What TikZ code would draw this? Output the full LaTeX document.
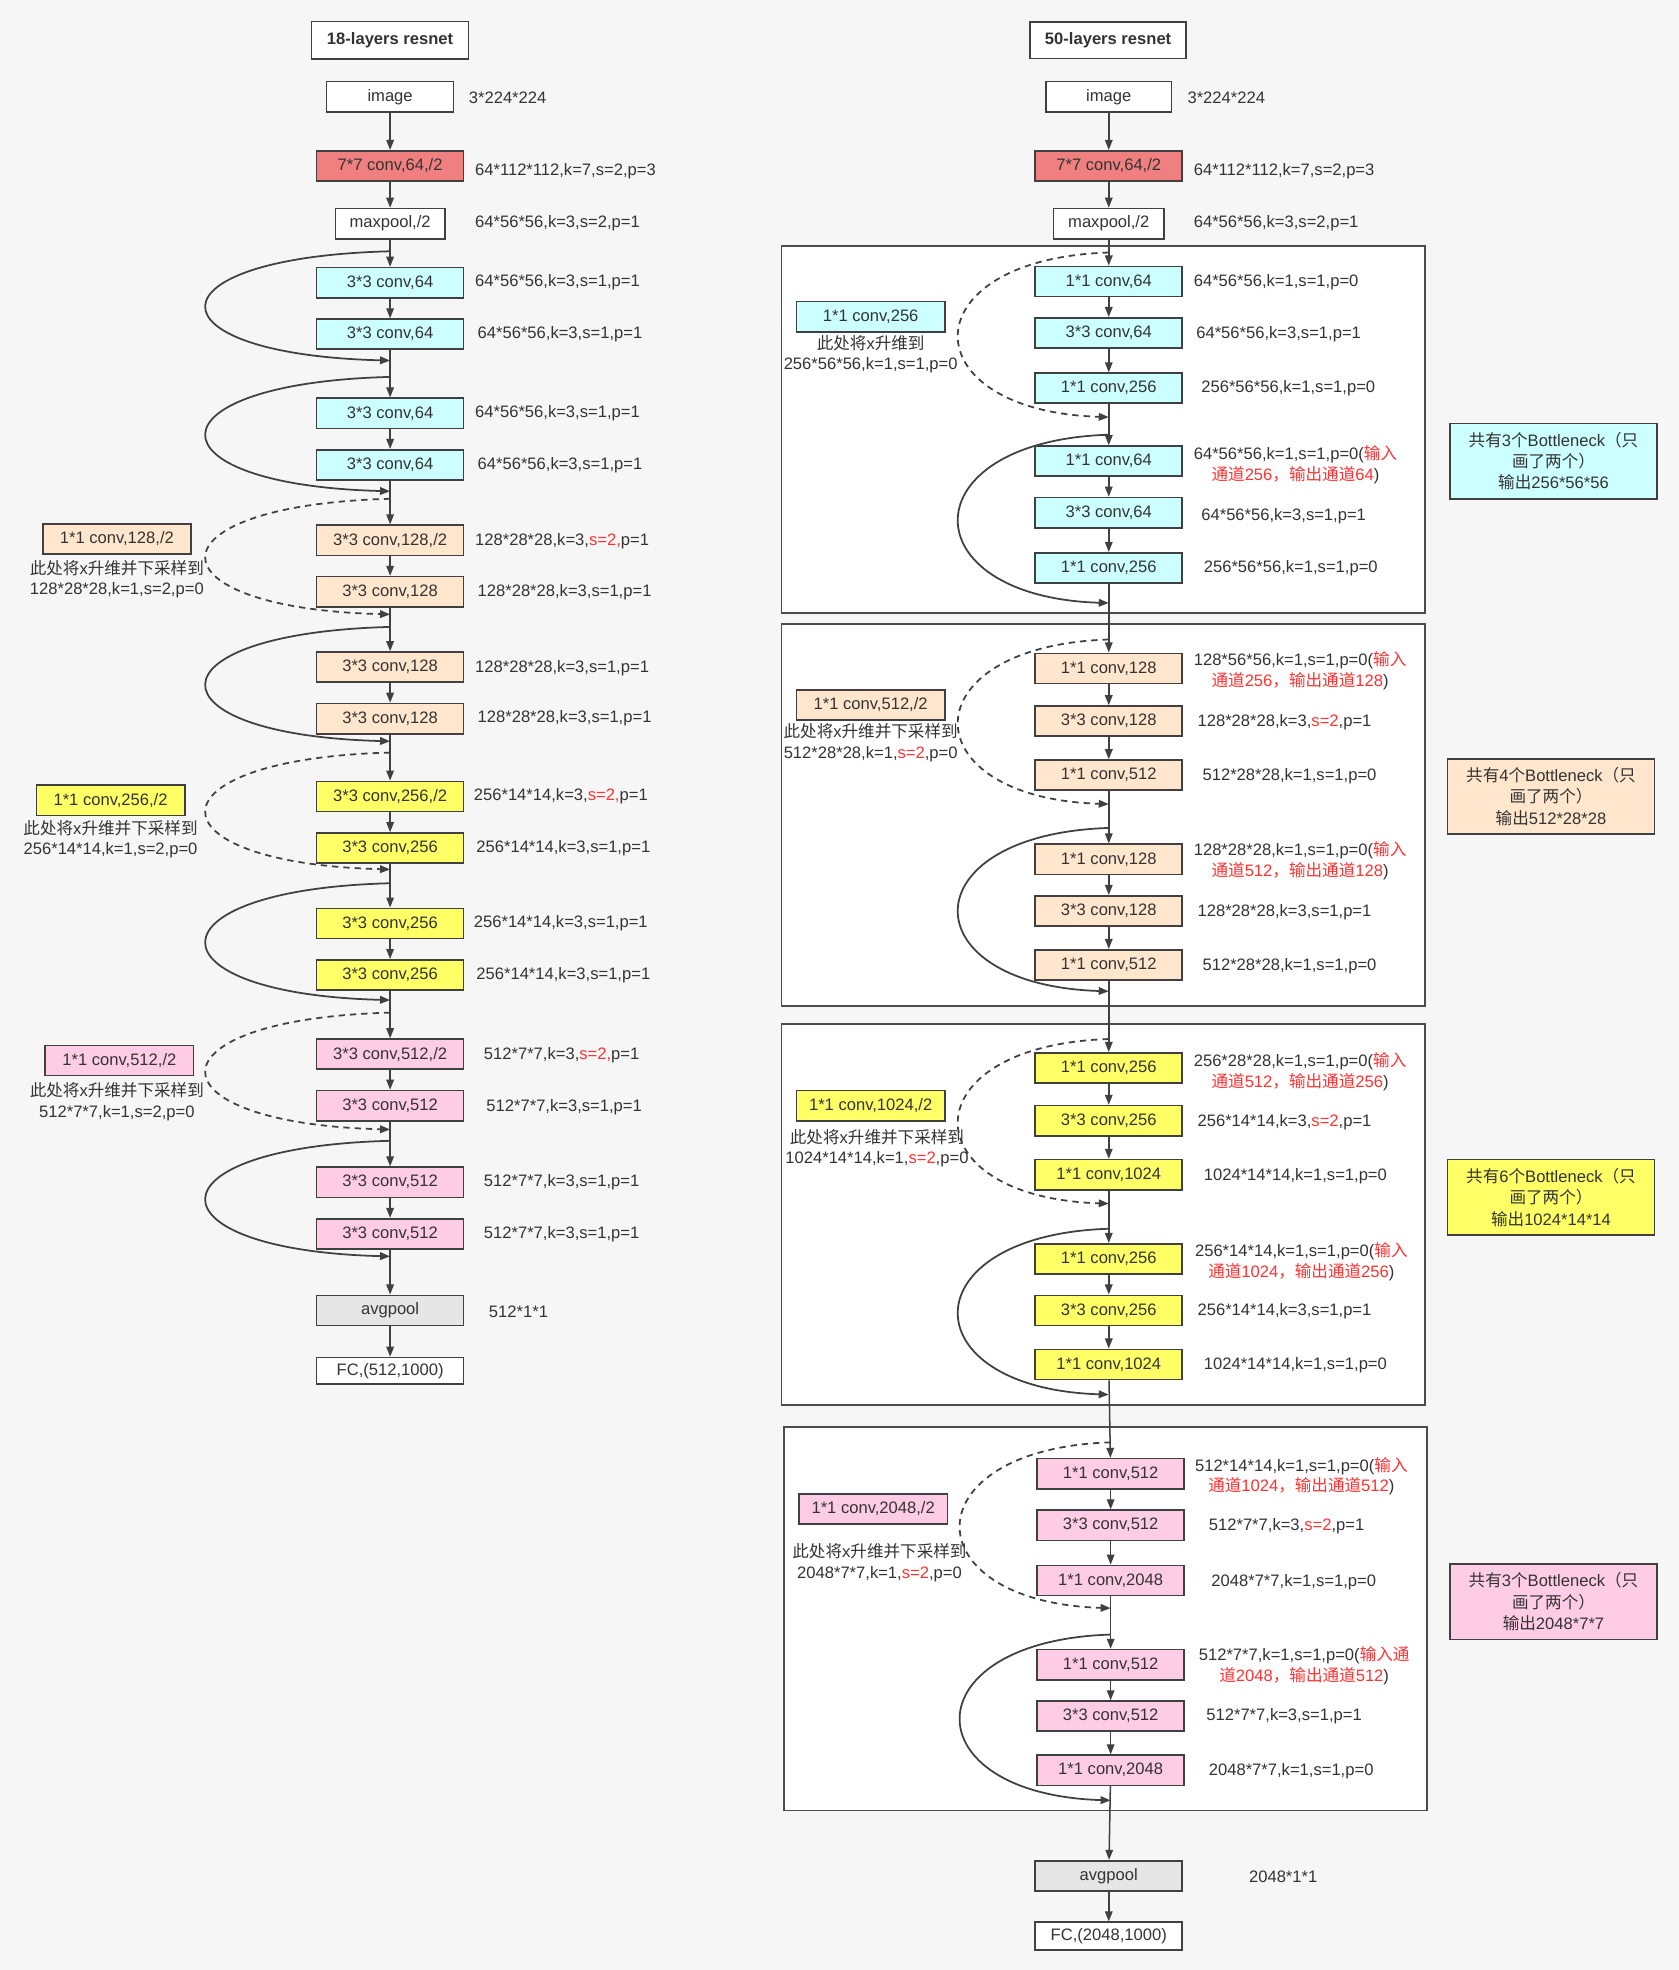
\documentclass[tikz,border=0pt]{standalone}
\usepackage{fontspec}
\setmainfont{Liberation Sans}
\newfontfamily\cjk{Noto Sans CJK SC}
\usetikzlibrary{arrows.meta}
\definecolor{cyanc}{HTML}{CCFFFF}
\definecolor{peachc}{HTML}{FFE6CC}
\definecolor{yelc}{HTML}{FFFF66}
\definecolor{pinkc}{HTML}{FFCCE6}
\definecolor{redc}{HTML}{F08080}
\definecolor{grayc}{HTML}{E6E6E6}
\definecolor{hotred}{HTML}{FF3333}
\definecolor{bgc}{HTML}{F6F6F6}
\definecolor{ink}{HTML}{333333}
\newcommand\lbl{\fontsize{13.2}{16.5}\selectfont}
\newcommand\zh[1]{{\cjk #1}}
\newcommand\hot[1]{\textcolor{hotred}{#1}}
\tikzset{
  blk/.style={draw=black!75, line width=1.3pt, fill=white, minimum width=117pt,
    minimum height=24pt, inner sep=0pt, text=ink, font=\lbl},
  lab/.style={anchor=west, inner sep=0pt, text=ink, font=\lbl},
  note/.style={align=center, inner sep=0pt, text=ink, font=\lbl},
  info/.style={blk, minimum width=165pt, minimum height=60pt, align=center,
    font=\fontsize{13.2}{17}\selectfont},
  frame/.style={draw=black!70, line width=1.5pt, fill=white},
  arr/.style={draw=black!75, line width=1.2pt, -{Triangle[length=8pt,width=6pt]}},
  skipline/.style={arr, line width=1.4pt},
  skipdash/.style={arr, line width=1.4pt, dash pattern=on 5pt off 4pt},
}
\begin{document}
\begin{tikzpicture}[x=1pt,y=-1pt]
\fill[bgc] (0,0) rectangle (1336,1568);
\useasboundingbox (0,0) rectangle (1336,1568);
% ---- 18 layers ----
\node[blk, font=\lbl\bfseries, minimum width=125pt, minimum height=30pt] (t18) at (310.5,32) {18-layers resnet};
\node[blk, minimum width=101pt] (im18) at (310.5,77) {image};
\node[lab] (lim18) at (373,78) {3*224*224};
\node[blk, fill=redc] (cv18) at (310.5,132) {7*7 conv,64,/2};
\node[lab] (lcv18) at (378,136) {64*112*112,k=7,s=2,p=3};
\node[blk, minimum width=87pt] (mp18) at (310.5,178) {maxpool,/2};
\node[lab] (lmp18) at (378,178) {64*56*56,k=3,s=2,p=1};
\node[blk, fill=cyanc] (b1) at (310.5,225) {3*3 conv,64};
\node[blk, fill=cyanc] (b2) at (310.5,266) {3*3 conv,64};
\node[blk, fill=cyanc] (b3) at (310.5,329) {3*3 conv,64};
\node[blk, fill=cyanc] (b4) at (310.5,370) {3*3 conv,64};
\node[lab] (lb1) at (378,225) {64*56*56,k=3,s=1,p=1};
\node[lab] (lb2) at (380,266) {64*56*56,k=3,s=1,p=1};
\node[lab] (lb3) at (378,329) {64*56*56,k=3,s=1,p=1};
\node[lab] (lb4) at (380,370) {64*56*56,k=3,s=1,p=1};
\node[blk, fill=peachc] (c1) at (310.5,430) {3*3 conv,128,/2};
\node[blk, fill=peachc] (c2) at (310.5,471) {3*3 conv,128};
\node[blk, fill=peachc] (c3) at (310.5,531) {3*3 conv,128};
\node[blk, fill=peachc] (c4) at (310.5,572) {3*3 conv,128};
\node[lab] (lc1) at (378,431) {128*28*28,k=3,\hot{s=2,}p=1};
\node[lab] (lc2) at (380,471) {128*28*28,k=3,s=1,p=1};
\node[lab] (lc3) at (378,532) {128*28*28,k=3,s=1,p=1};
\node[lab] (lc4) at (380,572) {128*28*28,k=3,s=1,p=1};
\node[blk, fill=yelc] (d1) at (310.5,634) {3*3 conv,256,/2};
\node[blk, fill=yelc] (d2) at (310.5,675) {3*3 conv,256};
\node[blk, fill=yelc] (d3) at (310.5,735) {3*3 conv,256};
\node[blk, fill=yelc] (d4) at (310.5,776) {3*3 conv,256};
\node[lab] (ld1) at (377,634) {256*14*14,k=3,\hot{s=2,}p=1};
\node[lab] (ld2) at (379,675) {256*14*14,k=3,s=1,p=1};
\node[lab] (ld3) at (377,735) {256*14*14,k=3,s=1,p=1};
\node[lab] (ld4) at (379,776) {256*14*14,k=3,s=1,p=1};
\node[blk, fill=pinkc] (e1) at (310.5,839) {3*3 conv,512,/2};
\node[blk, fill=pinkc] (e2) at (310.5,880) {3*3 conv,512};
\node[blk, fill=pinkc] (e3) at (310.5,941) {3*3 conv,512};
\node[blk, fill=pinkc] (e4) at (310.5,982) {3*3 conv,512};
\node[lab] (le1) at (385,840) {512*7*7,k=3,\hot{s=2,}p=1};
\node[lab] (le2) at (387,881) {512*7*7,k=3,s=1,p=1};
\node[lab] (le3) at (385,941) {512*7*7,k=3,s=1,p=1};
\node[lab] (le4) at (385,982) {512*7*7,k=3,s=1,p=1};
\node[blk, fill=grayc] (ap18) at (310.5,1043) {avgpool};
\node[lab] (lap18) at (389,1044) {512*1*1};
\node[blk, minimum height=21pt] (fc18) at (310.5,1091) {FC,(512,1000)};
% side convs
\node[blk, fill=peachc, minimum width=118pt] (sd1) at (93,429) {1*1 conv,128,/2};
\node[note] (sn1) at (93,461) {\zh{此处将}x\zh{升维并下采样到}\\128*28*28,k=1,s=2,p=0};
\node[blk, fill=yelc, minimum width=118pt] (sd2) at (88,637) {1*1 conv,256,/2};
\node[note] (sn2) at (88,668) {\zh{此处将}x\zh{升维并下采样到}\\256*14*14,k=1,s=2,p=0};
\node[blk, fill=pinkc, minimum width=118pt] (sd3) at (95,844) {1*1 conv,512,/2};
\node[note] (sn3) at (93,877) {\zh{此处将}x\zh{升维并下采样到}\\512*7*7,k=1,s=2,p=0};
\foreach \a/\b in {im18/cv18,cv18/mp18,mp18/b1,b1/b2,b2/b3,b3/b4,b4/c1,c1/c2,c2/c3,c3/c4,
  c4/d1,d1/d2,d2/d3,d3/d4,d4/e1,e1/e2,e2/e3,e3/e4,e4/ap18,ap18/fc18} {\draw[arr] (\a) -- (\b);}
\foreach \i/\a/\b/\s in {1/200/287/skipline,2/300/391/skipline,3/397/489/skipdash,4/499/590/skipline,
  5/599/692/skipdash,6/703/796/skipline,7/806/899/skipdash,8/908/1000/skipline} {
  \coordinate (ls\i) at (310.5,\a);
  \coordinate (le\i) at (310.5,\b);
  \draw[\s] (ls\i) .. controls +(-195,5) and +(-195,-5) .. (le\i);
}
% ---- 50 layers ----
\draw[frame] (622,196) rectangle (1134,488);
\draw[frame] (622,497) rectangle (1134,801);
\draw[frame] (622,815) rectangle (1134,1118);
\draw[frame] (624,1136) rectangle (1136,1441);
\node[blk, font=\lbl\bfseries, minimum width=124pt, minimum height=29pt] (t50) at (882,32) {50-layers resnet};
\node[blk, minimum width=100pt] (im50) at (882.5,77) {image};
\node[lab] (lim50) at (945,78) {3*224*224};
\node[blk, fill=redc] (cv50) at (882.5,132) {7*7 conv,64,/2};
\node[lab] (lcv50) at (950,136) {64*112*112,k=7,s=2,p=3};
\node[blk, minimum width=88pt] (mp50) at (882.5,178) {maxpool,/2};
\node[lab] (lmp50) at (950,178) {64*56*56,k=3,s=2,p=1};
% stage 1
\node[blk, fill=cyanc] (r11) at (882.5,224) {1*1 conv,64};
\node[blk, fill=cyanc] (r12) at (882.5,265) {3*3 conv,64};
\node[blk, fill=cyanc] (r13) at (882.5,309) {1*1 conv,256};
\node[blk, fill=cyanc] (r14) at (882.5,367) {1*1 conv,64};
\node[blk, fill=cyanc] (r15) at (882.5,408) {3*3 conv,64};
\node[blk, fill=cyanc] (r16) at (882.5,452) {1*1 conv,256};
\node[lab] (l11) at (950,225) {64*56*56,k=1,s=1,p=0};
\node[lab] (l12) at (952,266) {64*56*56,k=3,s=1,p=1};
\node[lab] (l13) at (956,309) {256*56*56,k=1,s=1,p=0};
\node[lab, align=center] (l14) at (950,370) {64*56*56,k=1,s=1,p=0(\hot{\zh{输入}}\\\hot{\zh{通道}256\zh{，输出通道}64})};
\node[lab] (l15) at (956,411) {64*56*56,k=3,s=1,p=1};
\node[lab] (l16) at (958,452) {256*56*56,k=1,s=1,p=0};
\node[blk, fill=cyanc, minimum width=118pt] (rs1) at (693,252) {1*1 conv,256};
\node[note] (rt1) at (693,282) {\zh{此处将}x\zh{升维到}\\256*56*56,k=1,s=1,p=0};
\node[info, fill=cyanc] (rn1) at (1236.5,367) {\zh{共有}3\zh{个}Bottleneck\zh{（只}\\\zh{画了两个）}\\\zh{输出}256*56*56};
% stage 2
\node[blk, fill=peachc] (r21) at (882.5,532) {1*1 conv,128};
\node[blk, fill=peachc] (r22) at (882.5,574) {3*3 conv,128};
\node[blk, fill=peachc] (r23) at (882.5,617) {1*1 conv,512};
\node[blk, fill=peachc] (r24) at (882.5,684) {1*1 conv,128};
\node[blk, fill=peachc] (r25) at (882.5,725) {3*3 conv,128};
\node[blk, fill=peachc] (r26) at (882.5,768) {1*1 conv,512};
\node[lab, align=center] (l21) at (950,534) {128*56*56,k=1,s=1,p=0(\hot{\zh{输入}}\\\hot{\zh{通道}256\zh{，输出通道}128})};
\node[lab] (l22) at (953,575) {128*28*28,k=3,\hot{s=2},p=1};
\node[lab] (l23) at (957,618) {512*28*28,k=1,s=1,p=0};
\node[lab, align=center] (l24) at (950,685) {128*28*28,k=1,s=1,p=0(\hot{\zh{输入}}\\\hot{\zh{通道}512\zh{，输出通道}128})};
\node[lab] (l25) at (953,726) {128*28*28,k=3,s=1,p=1};
\node[lab] (l26) at (957,769) {512*28*28,k=1,s=1,p=0};
\node[blk, fill=peachc, minimum width=118pt] (rs2) at (693,561) {1*1 conv,512,/2};
\node[note] (rt2) at (693,591) {\zh{此处将}x\zh{升维并下采样到}\\512*28*28,k=1,\hot{s=2},p=0};
\node[info, fill=peachc] (rn2) at (1234.5,634) {\zh{共有}4\zh{个}Bottleneck\zh{（只}\\\zh{画了两个）}\\\zh{输出}512*28*28};
% stage 3
\node[blk, fill=yelc] (r31) at (882.5,850) {1*1 conv,256};
\node[blk, fill=yelc] (r32) at (882.5,892) {3*3 conv,256};
\node[blk, fill=yelc] (r33) at (882.5,935) {1*1 conv,1024};
\node[blk, fill=yelc] (r34) at (882.5,1002) {1*1 conv,256};
\node[blk, fill=yelc] (r35) at (882.5,1043) {3*3 conv,256};
\node[blk, fill=yelc] (r36) at (882.5,1086) {1*1 conv,1024};
\node[lab, align=center] (l31) at (950,853) {256*28*28,k=1,s=1,p=0(\hot{\zh{输入}}\\\hot{\zh{通道}512\zh{，输出通道}256})};
\node[lab] (l32) at (953,893) {256*14*14,k=3,\hot{s=2},p=1};
\node[lab] (l33) at (958,936) {1024*14*14,k=1,s=1,p=0};
\node[lab, align=center] (l34) at (951,1004) {256*14*14,k=1,s=1,p=0(\hot{\zh{输入}}\\\hot{\zh{通道}1024\zh{，输出通道}256})};
\node[lab] (l35) at (953,1044) {256*14*14,k=3,s=1,p=1};
\node[lab] (l36) at (958,1087) {1024*14*14,k=1,s=1,p=0};
\node[blk, fill=yelc, minimum width=118pt] (rs3) at (693,880) {1*1 conv,1024,/2};
\node[note] (rt3) at (698,914) {\zh{此处将}x\zh{升维并下采样到}\\1024*14*14,k=1,\hot{s=2},p=0};
\node[info, fill=yelc] (rn3) at (1234.5,953) {\zh{共有}6\zh{个}Bottleneck\zh{（只}\\\zh{画了两个）}\\\zh{输出}1024*14*14};
% stage 4
\node[blk, fill=pinkc] (r41) at (884,1173) {1*1 conv,512};
\node[blk, fill=pinkc] (r42) at (884,1214) {3*3 conv,512};
\node[blk, fill=pinkc] (r43) at (884,1258) {1*1 conv,2048};
\node[blk, fill=pinkc] (r44) at (884,1325) {1*1 conv,512};
\node[blk, fill=pinkc] (r45) at (884,1366) {3*3 conv,512};
\node[blk, fill=pinkc] (r46) at (884,1409) {1*1 conv,2048};
\node[lab, align=center] (l41) at (951,1175) {512*14*14,k=1,s=1,p=0(\hot{\zh{输入}}\\\hot{\zh{通道}1024\zh{，输出通道}512})};
\node[lab] (l42) at (962,1215) {512*7*7,k=3,\hot{s=2},p=1};
\node[lab] (l43) at (964,1259) {2048*7*7,k=1,s=1,p=0};
\node[lab, align=center] (l44) at (954,1326) {512*7*7,k=1,s=1,p=0(\hot{\zh{输入通}}\\\hot{\zh{道}2048\zh{，输出通道}512})};
\node[lab] (l45) at (960,1366) {512*7*7,k=3,s=1,p=1};
\node[lab] (l46) at (962,1410) {2048*7*7,k=1,s=1,p=0};
\node[blk, fill=pinkc, minimum width=118pt] (rs4) at (695,1201) {1*1 conv,2048,/2};
\node[note] (rt4) at (700,1244) {\zh{此处将}x\zh{升维并下采样到}\\2048*7*7,k=1,\hot{s=2},p=0};
\node[info, fill=pinkc] (rn4) at (1236.5,1275) {\zh{共有}3\zh{个}Bottleneck\zh{（只}\\\zh{画了两个）}\\\zh{输出}2048*7*7};
\node[blk, fill=grayc] (ap50) at (882.5,1493) {avgpool};
\node[lab] (lap50) at (994,1494) {2048*1*1};
\node[blk, minimum height=22pt] (fc50) at (882.5,1541) {FC,(2048,1000)};
\foreach \a/\b in {im50/cv50,cv50/mp50,mp50/r11,r16/r21,r26/r31,r36/r41,r46/ap50,ap50/fc50} {\draw[arr] (\a) -- (\b);}
\foreach \i in {1,...,4} {
  \foreach \j/\k in {1/2,2/3,3/4,4/5,5/6} {\draw[arr] (r\i\j) -- (r\i\k);}
}
\foreach \i/\x/\a/\b/\s in {1/882.5/201/332/skipdash,2/882.5/346/480/skipline,3/882.5/509/640/skipdash,
  4/882.5/659/789/skipline,5/882.5/827/958/skipdash,6/882.5/978/1110/skipline,
  7/884/1148/1280/skipdash,8/884/1301/1433/skipline} {
  \coordinate (rs\i a) at (\x,\a);
  \coordinate (re\i a) at (\x,\b);
  \draw[\s] (rs\i a) .. controls +(-159,5) and +(-159,-5) .. (re\i a);
}
\end{tikzpicture}
\end{document}
